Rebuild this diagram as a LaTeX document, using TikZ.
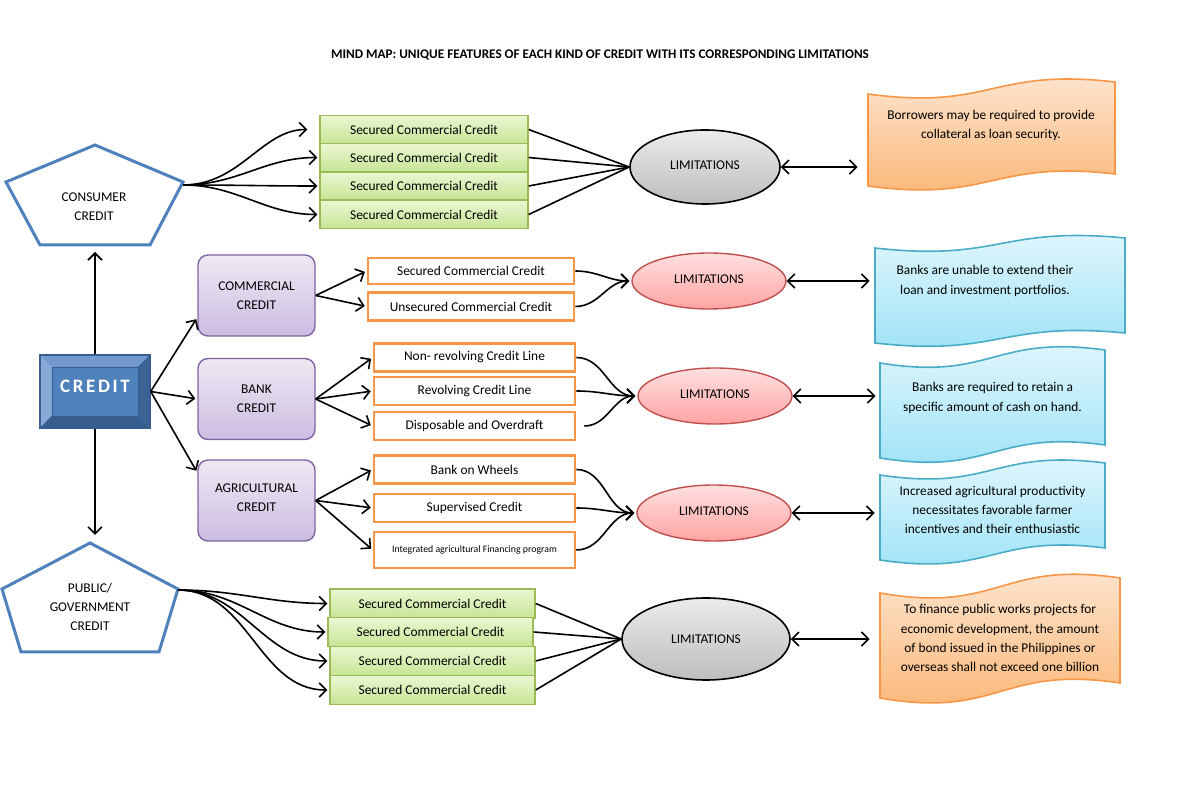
\documentclass[tikz,border=0pt]{standalone}
\usepackage{fontspec}
\setmainfont{Carlito}
\newfontfamily\creditfont[LetterSpace=14]{Carlito}
\usepackage{tikz}
\usetikzlibrary{arrows.meta,shapes.geometric,positioning,calc}
\definecolor{greenedge}{HTML}{9BBB59}
\definecolor{greentop}{HTML}{EBF7D2}
\definecolor{greenbot}{HTML}{C6E596}
\definecolor{orangeedge}{HTML}{F79646}
\definecolor{orangetop}{HTML}{FDE7D3}
\definecolor{orangebot}{HTML}{FBB574}
\definecolor{purpleedge}{HTML}{8064A2}
\definecolor{purpletop}{HTML}{EEE9F4}
\definecolor{purplebot}{HTML}{CBBDE1}
\definecolor{greytop}{HTML}{EBEBEB}
\definecolor{greybot}{HTML}{BDBDBD}
\definecolor{pinkedge}{HTML}{C0504D}
\definecolor{pinktop}{HTML}{FFE0E0}
\definecolor{pinkbot}{HTML}{FFA3A3}
\definecolor{blueedge}{HTML}{4BACC6}
\definecolor{bluetop}{HTML}{E3F7FD}
\definecolor{bluebot}{HTML}{9CE2F7}
\definecolor{pentaedge}{HTML}{4F81BD}
\definecolor{creditfill}{HTML}{4F81BD}
\definecolor{creditlight}{HTML}{7399CE}
\definecolor{creditdark}{HTML}{385E8F}
\newcommand{\wavepath}[5]{({#1},{#2+#5}) .. controls ({(#1+#3)/2},{#2+2.4*#5}) and ({(#1+#3)/2},{#2-1.2*#5}) .. ({#3},{#2}) -- ({#3},{#2+#4}) .. controls ({(#1+#3)/2},{#2+#4-1.2*#5}) and ({(#1+#3)/2},{#2+#4+2.4*#5}) .. ({#1},{#2+#4+#5}) -- cycle}

\begin{document}
\begin{tikzpicture}[x=0.5pt,y=-0.5pt,font=\fontsize{6.7}{9.6}\selectfont,
 greenbox/.style={draw=greenedge,line width=0.7pt,top color=greentop,bottom color=greenbot,minimum width=104pt,minimum height=14pt,inner sep=0pt},
 orangebox/.style={draw=orangeedge,line width=1.3pt,fill=white,minimum width=100.5pt,minimum height=14pt,inner sep=0pt},
 purplebox/.style={draw=purpleedge,line width=0.7pt,rounded corners=5pt,top color=purpletop,bottom color=purplebot,minimum width=58.5pt,minimum height=40.5pt,align=center},
 greylim/.style={ellipse,draw=black,line width=0.8pt,top color=greytop,bottom color=greybot,inner sep=0pt},
 pinklim/.style={ellipse,draw=pinkedge,line width=0.7pt,top color=pinktop,bottom color=pinkbot,minimum width=77pt,minimum height=28pt,inner sep=0pt},
 orangewave/.style={draw=orangeedge,line width=0.8pt,top color=orangetop,bottom color=orangebot},
 bluewave/.style={draw=blueedge,line width=0.8pt,top color=bluetop,bottom color=bluebot},
 notetext/.style={align=center,inner sep=0pt},
 penta/.style={draw=pentaedge,line width=1.5pt,fill=white},
 wire/.style={-{Straight Barb[length=3.5pt,width=7pt]},line width=0.8pt,shorten >=1pt},
 link/.style={line width=0.8pt},
 both/.style={{Straight Barb[length=3.5pt,width=7pt]}-{Straight Barb[length=3.5pt,width=7pt]},line width=0.8pt}]
\useasboundingbox (0,0) rectangle (1200,785);
\node[font=\fontsize{6.6}{8}\selectfont\bfseries] (title) at (600,55) {MIND MAP: UNIQUE FEATURES OF EACH KIND OF CREDIT WITH ITS CORRESPONDING LIMITATIONS};
\draw[penta] (95,145) -- (183,182) -- (150,245) -- (40,245) -- (6,182) -- cycle;
\node[align=center] (consumer) at (94,207) {CONSUMER\\CREDIT};
\coordinate (consumertip) at (183,185);
\coordinate (consumerbase) at (95,250);
\draw[penta] (90,543) -- (178,589) -- (159,652) -- (21,652) -- (2,589) -- cycle;
\node[align=center] (public) at (90,607) {PUBLIC/\\GOVERNMENT\\CREDIT};
\coordinate (publictip) at (178,590);
\coordinate (publictop) at (95,537);
\node[draw=creditdark,line width=0.7pt,fill=creditfill,minimum width=55pt,minimum height=36.5pt,text=white,font=\fontsize{9.5}{11}\creditfont\bfseries,
 path picture={
  \coordinate (nw) at (path picture bounding box.north west);
  \coordinate (ne) at (path picture bounding box.north east);
  \coordinate (sw) at (path picture bounding box.south west);
  \coordinate (se) at (path picture bounding box.south east);
  \fill[creditlight] (nw) -- (ne) -- ($(ne)+(-6pt,-6pt)$) -- ($(nw)+(6pt,-6pt)$) -- cycle;
  \fill[creditlight!85!white] (nw) -- (sw) -- ($(sw)+(6pt,6pt)$) -- ($(nw)+(6pt,-6pt)$) -- cycle;
  \fill[creditdark] (sw) -- (se) -- ($(se)+(-6pt,6pt)$) -- ($(sw)+(6pt,6pt)$) -- cycle;
  \fill[creditdark!85!creditfill] (ne) -- (se) -- ($(se)+(-6pt,6pt)$) -- ($(ne)+(-6pt,-6pt)$) -- cycle;
  \draw[creditdark,line width=0.4pt] ($(nw)+(6pt,-6pt)$) rectangle ($(se)+(-6pt,6pt)$);}]
 (credit) at (95,391.5) {\raisebox{5pt}{CREDIT}};
\node[greenbox] (consa) at (424,129.5) {Secured Commercial Credit};
\node[greenbox] (consb) at (424,157.5) {Secured Commercial Credit};
\node[greenbox] (consc) at (424,186) {Secured Commercial Credit};
\node[greenbox] (consd) at (424,214.5) {Secured Commercial Credit};
\node[greylim,minimum width=75pt,minimum height=37pt] (limcons) at (705,167) {\raisebox{2pt}{LIMITATIONS}};
\draw[orangewave] \wavepath{868}{82}{1115}{92}{12};
\node[notetext,minimum width=123pt] (consnote) at (991,125.5) {Borrowers may be required to provide\\collateral as loan security.};
\node[purplebox] (commercial) at (256.5,295.5) {COMMERCIAL\\CREDIT};
\node[orangebox,minimum width=103pt,minimum height=13pt] (comsec) at (471,271) {Secured Commercial Credit};
\node[orangebox,minimum width=103pt] (comuns) at (471,306.5) {Unsecured Commercial Credit};
\node[pinklim] (limcom) at (709,281) {\raisebox{2pt}{LIMITATIONS}};
\draw[bluewave] \wavepath{875}{238}{1125}{95}{10};
\node[notetext,minimum width=110pt] (comnote) at (985,281) {Banks are unable to extend their\\loan and investment portfolios.};
\node[purplebox] (bank) at (256.5,399) {BANK\\CREDIT};
\node[orangebox] (banknon) at (474.5,357.5) {Non- revolving Credit Line};
\node[orangebox] (bankrev) at (474.5,391) {Revolving Credit Line};
\node[orangebox] (bankdis) at (474.5,426) {Disposable and Overdraft};
\node[pinklim] (limbank) at (715,396) {\raisebox{2pt}{LIMITATIONS}};
\draw[bluewave] \wavepath{880}{350}{1105}{95}{13};
\node[notetext,minimum width=112.5pt] (banknote) at (992.5,398) {Banks are required to retain a\\specific amount of cash on hand.};
\node[purplebox] (agri) at (256.5,500.5) {\raisebox{3pt}{\shortstack{AGRICULTURAL\\[2pt]CREDIT}}};
\node[orangebox] (agriwheel) at (474.5,469.5) {Bank on Wheels};
\node[orangebox] (agrisup) at (474.5,508) {Supervised Credit};
\node[orangebox,minimum height=18pt,font=\fontsize{4.9}{6}\selectfont] (agriint) at (474.5,550) {Integrated agricultural Financing program};
\node[pinklim] (limagri) at (714,513) {\raisebox{2pt}{LIMITATIONS}};
\draw[bluewave] \wavepath{880}{463}{1105}{85}{12};
\node[notetext,minimum width=112.5pt] (agrinote) at (992.5,510) {Increased agricultural productivity\\necessitates favorable farmer\\incentives and their enthusiastic};
\node[greenbox,minimum width=102.5pt,minimum height=14.5pt] (puba) at (432.5,603.5) {Secured Commercial Credit};
\node[greenbox,minimum width=102.5pt,minimum height=14.5pt] (pubb) at (430.5,632) {Secured Commercial Credit};
\node[greenbox,minimum width=102.5pt,minimum height=14.5pt] (pubc) at (432.5,661) {Secured Commercial Credit};
\node[greenbox,minimum width=102.5pt,minimum height=14.5pt] (pubd) at (432.5,690) {Secured Commercial Credit};
\node[greylim,minimum width=84pt,minimum height=41pt] (limpub) at (706,639) {LIMITATIONS};
\draw[orangewave] \wavepath{880}{578}{1120}{105}{15};
\node[notetext,minimum width=120pt] (pubnote) at (1000,638) {To finance public works projects for\\economic development, the amount\\of bond issued in the Philippines or\\overseas shall not exceed one billion};
\draw[wire] (credit.north) -- (consumerbase);
\draw[wire] (credit.south) -- (publictop);
\draw[wire] (credit.east) -- ([yshift=-11pt]commercial.west);
\draw[wire] (credit.east) -- (bank.west);
\draw[wire] (credit.east) -- ([yshift=14pt]agri.west);
\draw[wire,shorten >=6pt] (consumertip) to[out=0,in=180] (consa.west);
\draw[wire] (consumertip) to[out=0,in=180] (consb.west);
\draw[wire] (consumertip) to[out=0,in=180] (consc.west);
\draw[wire] (consumertip) to[out=0,in=180] (consd.west);
\draw[link] (consa.east) -- (limcons.west);
\draw[link] (consb.east) -- (limcons.west);
\draw[link] (consc.east) -- (limcons.west);
\draw[link] (consd.east) -- (limcons.west);
\draw[both,shorten >=5pt] (limcons.east) -- (limcons.east -| consnote.west);
\draw[wire] (commercial.east) -- (comsec.west);
\draw[wire] (commercial.east) -- (comuns.west);
\draw[wire] (comsec.east) to[out=0,in=180] (limcom.west);
\draw[wire] (comuns.east) to[out=0,in=180] (limcom.west);
\draw[both,shorten >=2.5pt] (limcom.east) -- (limcom.east -| comnote.west);
\draw[wire] (bank.east) -- (banknon.west);
\draw[wire] (bank.east) -- (bankrev.west);
\draw[wire] (bank.east) -- (bankdis.west);
\draw[wire] (banknon.east) to[out=0,in=180] (limbank.west);
\draw[wire] (bankrev.east) to[out=0,in=180] (limbank.west);
\draw[wire] ([xshift=4pt]bankdis.east) to[out=0,in=180] (limbank.west);
\draw[both,shorten >=2pt] (limbank.east) -- (limbank.east -| banknote.west);
\draw[wire] (agri.east) -- (agriwheel.west);
\draw[wire] (agri.east) -- (agrisup.west);
\draw[wire] (agri.east) -- (agriint.west);
\draw[wire] (agriwheel.east) to[out=0,in=180] (limagri.west);
\draw[wire] (agrisup.east) to[out=0,in=180] (limagri.west);
\draw[wire] (agriint.east) to[out=0,in=180] (limagri.west);
\draw[both,shorten >=2.5pt] (limagri.east) -- (limagri.east -| agrinote.west);
\draw[wire] (publictip) to[out=0,in=180] (puba.west);
\draw[wire] (publictip) to[out=0,in=180] (pubb.west);
\draw[wire] (publictip) to[out=0,in=180] (pubc.west);
\draw[wire] (publictip) to[out=0,in=180] (pubd.west);
\draw[link] (puba.east) -- (limpub.west);
\draw[link] (pubb.east) -- (limpub.west);
\draw[link] (pubc.east) -- (limpub.west);
\draw[link] (pubd.east) -- (limpub.west);
\draw[both,shorten >=5pt] (limpub.east) -- (limpub.east -| pubnote.west);
\end{tikzpicture}
\end{document}
